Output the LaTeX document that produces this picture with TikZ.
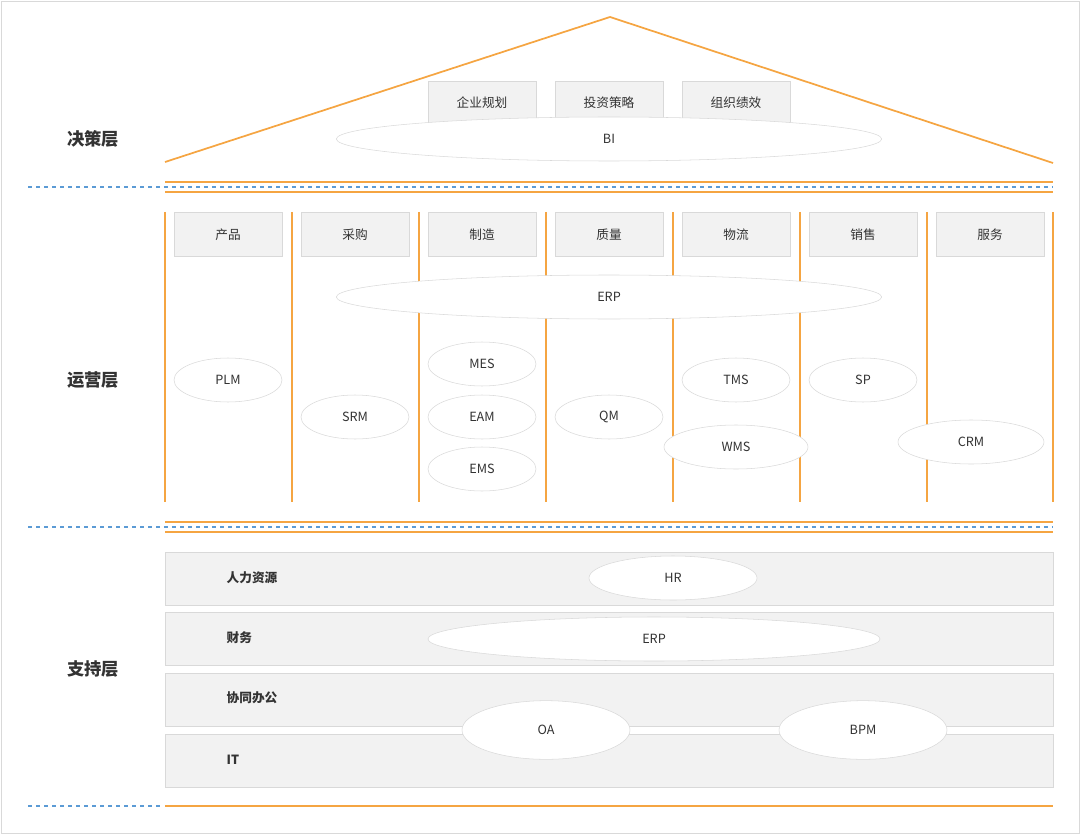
\documentclass[tikz,border=0pt]{standalone}
\usepackage{fontspec}
\setmainfont{Noto Sans CJK SC}
\usetikzlibrary{shapes.geometric}
\definecolor{org}{HTML}{F5A542}
\definecolor{bxf}{HTML}{F2F2F2}
\definecolor{bxd}{HTML}{D9D9D9}
\definecolor{dsh}{HTML}{5B9BD5}
\begin{document}
\begin{tikzpicture}[x=0.75pt,y=-0.75pt,
  box/.style={draw=bxd,fill=bxf,minimum width=81pt,minimum height=33pt,inner sep=0,font=\fontsize{9.5}{11}\selectfont,text=black!80},
  ell/.style={ellipse,draw=bxd,fill=white,inner sep=0,font=\fontsize{9.5}{11}\selectfont,text=black!80},
  lay/.style={font=\bfseries\fontsize{13}{15}\selectfont,text=black!80},
  row/.style={draw=bxd,fill=bxf},
  rl/.style={anchor=west,font=\bfseries\fontsize{9.5}{11}\selectfont,text=black!80},
  ol/.style={draw=org,line width=1.3pt},
  dl/.style={draw=dsh,dashed,line width=1pt}]
\useasboundingbox (0,0) rectangle (1080,834);
\draw[bxd] (1,1) rectangle (1079,833);
% roof
\coordinate (r1) at (165,162); \coordinate (r2) at (610,17); \coordinate (r3) at (1053,163);
\draw[ol] (r1) -- (r2) -- (r3);
\node[box] (t1) at (482,103) {企业规划};
\node[box] (t2) at (609,103) {投资策略};
\node[box] (t3) at (736,103) {组织绩效};
\node[ell,minimum width=409pt,minimum height=33pt] (bi) at (609,139) {BI};
\node[lay] (l1) at (93,139) {决策层};
\node[lay] (l2) at (93,380) {运营层};
\node[lay] (l3) at (93,669) {支持层};
% separators
\draw[ol] (165,182) -- (1053,182); \draw[ol] (165,192) -- (1053,192);
\draw[dl] (28,187) -- (1053,187);
\draw[ol] (165,522) -- (1053,522); \draw[ol] (165,532) -- (1053,532);
\draw[dl] (28,527) -- (1053,527);
\draw[dl] (28,806) -- (162,806); \draw[ol] (165,806) -- (1053,806);
% columns
\foreach \x in {165,292,419,546,673,800,927,1053} \draw[ol,line width=1pt] (\x,212) -- (\x,502);
\foreach \x/\t/\n in {228/产品/c1,355/采购/c2,482/制造/c3,609/质量/c4,736/物流/c5,863/销售/c6,990/服务/c7}
  \node[box] (\n) at (\x,234.5) {\t};
\node[ell,minimum width=409pt,minimum height=33pt] (erp) at (609,297) {ERP};
\foreach \x/\y/\w/\t/\n in {228/380/108/PLM/plm,355/417/108/SRM/srm,482/364/108/MES/mes,482/417/108/EAM/eam,482/469/108/EMS/ems,609/417/108/QM/qm,736/380/108/TMS/tms,736/447/144/WMS/wms,863/380/108/SP/sp,971/442/146/CRM/crm}
  \node[ell,minimum width=0.75*\w pt,minimum height=33pt] (\n) at (\x,\y) {\t};
% support
\draw[row] (165,552) rectangle (1053,605);
\draw[row] (165,612) rectangle (1053,665);
\draw[row] (165,673) rectangle (1053,726);
\draw[row] (165,734) rectangle (1053,787);
\node[rl] (s1) at (222,578) {人力资源};
\node[rl] (s2) at (222,638) {财务};
\node[rl] (s3) at (222,698) {协同办公};
\node[rl] (s4) at (222,760) {IT};
\node[ell,minimum width=126pt,minimum height=33pt] (hr) at (673,578) {HR};
\node[ell,minimum width=339pt,minimum height=33pt] (erp2) at (654,639) {ERP};
\node[ell,minimum width=126pt,minimum height=44pt] (oa) at (546,730) {OA};
\node[ell,minimum width=126pt,minimum height=44pt] (bpm) at (863,730) {BPM};
\end{tikzpicture}
\end{document}
